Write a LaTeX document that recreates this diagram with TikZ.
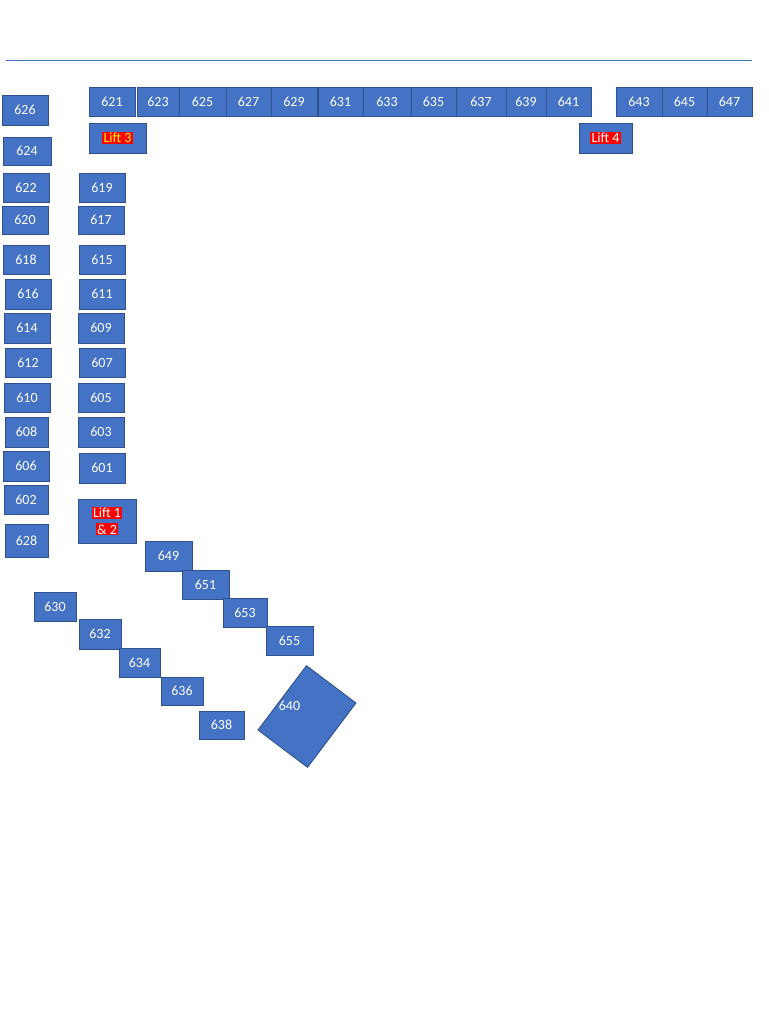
\documentclass[tikz,border=0pt]{standalone}
\usepackage{fontspec}
\setmainfont{Carlito}
\definecolor{boxblue}{HTML}{4472C4}
\definecolor{boxedge}{HTML}{2F528F}
\definecolor{liftred}{HTML}{FF0000}
\definecolor{liftyellow}{HTML}{FFFF00}
\newcommand{\hilite}[2]{{\setlength{\fboxsep}{1.2pt}\colorbox{liftred}{\textcolor{#1}{#2}}}}
\tikzset{
  room/.style 2 args={draw=boxedge, fill=boxblue, line width=0.9pt, text=white,
    minimum width=#1pt, minimum height=#2pt, inner sep=0pt,
    font=\fontsize{14}{17.5}\selectfont},
  plain/.style={text=white, inner sep=0pt, font=\fontsize{14}{17.5}\selectfont},
  rule/.style={draw=boxblue, line width=0.8pt}
}
\begin{document}
\begin{tikzpicture}[x=1pt,y=-1pt]
\useasboundingbox (0,0) rectangle (768,1024);
% header rule
\coordinate (ruleL) at (6,60);
\coordinate (ruleR) at (752,60);
\draw[rule] (ruleL) -- (ruleR);
% top row
\node[room={46}{29}] (r621) at (112,101.5) {621};
\node[room={42}{29}] (r623) at (158,101.5) {623};
\node[room={47}{29}] (r625) at (202.5,101.5) {625};
\node[room={45}{29}] (r627) at (248.5,101.5) {627};
\node[room={46}{29}] (r629) at (294,101.5) {629};
\node[room={45}{29}] (r631) at (340.5,101.5) {631};
\node[room={48}{29}] (r633) at (387,101.5) {633};
\node[room={45}{29}] (r635) at (433.5,101.5) {635};
\node[room={50}{29}] (r637) at (481,101.5) {637};
\node[room={40}{29}] (r639) at (526,101.5) {639};
\node[room={45}{29}] (r641) at (568.5,101.5) {641};
\node[room={46}{29}] (r643) at (639,101.5) {643};
\node[room={45}{29}] (r645) at (684.5,101.5) {645};
\node[room={45}{29}] (r647) at (729.5,101.5) {647};
% lifts
\node[room={57}{30}] (lift3) at (117.5,138) {\hilite{liftyellow}{Lift 3}};
\node[room={53}{30}] (lift4) at (605.5,138) {\hilite{white}{Lift 4}};
\node[room={58}{44}, align=center] (lift12) at (107,521) {\hilite{white}{Lift 1}\\[-1pt]\hilite{white}{\& 2}};
% left column
\node[room={46}{30}] (r626) at (25,110) {626};
\node[room={48}{28}] (r624) at (27,151) {624};
\node[room={46}{29}] (r622) at (26,187.5) {622};
\node[room={46}{28}] (r620) at (25,220) {620};
\node[room={46}{29}] (r618) at (26,259.5) {618};
\node[room={46}{30}] (r616) at (28,294) {616};
\node[room={46}{30}] (r614) at (27,328) {614};
\node[room={46}{29}] (r612) at (28,362.5) {612};
\node[room={46}{29}] (r610) at (27,397.5) {610};
\node[room={43}{30}] (r608) at (26.5,432) {608};
\node[room={46}{30}] (r606) at (26,466) {606};
\node[room={44}{29}] (r602) at (26,499.5) {602};
\node[room={43}{33}] (r628) at (26.5,540.5) {628};
% second column
\node[room={46}{29}] (r619) at (102,187.5) {619};
\node[room={46}{28}] (r617) at (101,220) {617};
\node[room={46}{29}] (r615) at (102,259.5) {615};
\node[room={46}{30}] (r611) at (102,294) {611};
\node[room={46}{30}] (r609) at (101,328) {609};
\node[room={46}{29}] (r607) at (102,362.5) {607};
\node[room={46}{29}] (r605) at (101,397.5) {605};
\node[room={46}{30}] (r603) at (101,432) {603};
\node[room={46}{30}] (r601) at (102,468) {601};
% diagonal rows
\node[room={47}{30}] (r649) at (168.5,556) {649};
\node[room={47}{29}] (r651) at (205.5,584.5) {651};
\node[room={44}{29}] (r653) at (245,612.5) {653};
\node[room={47}{29}] (r655) at (289.5,640.5) {655};
\node[room={42}{29}] (r630) at (55,606.5) {630};
\node[room={42}{30}] (r632) at (100,634) {632};
\node[room={41}{29}] (r634) at (139.5,662.5) {634};
\node[room={42}{28}] (r636) at (182,691) {636};
\node[room={45}{28}] (r638) at (221.5,725) {638};
% rotated room
\node[room={62}{80.5}, rotate=-37] (r640) at (307,716.5) {};
\node[plain] (t640) at (289.5,706) {640};
\end{tikzpicture}
\end{document}
